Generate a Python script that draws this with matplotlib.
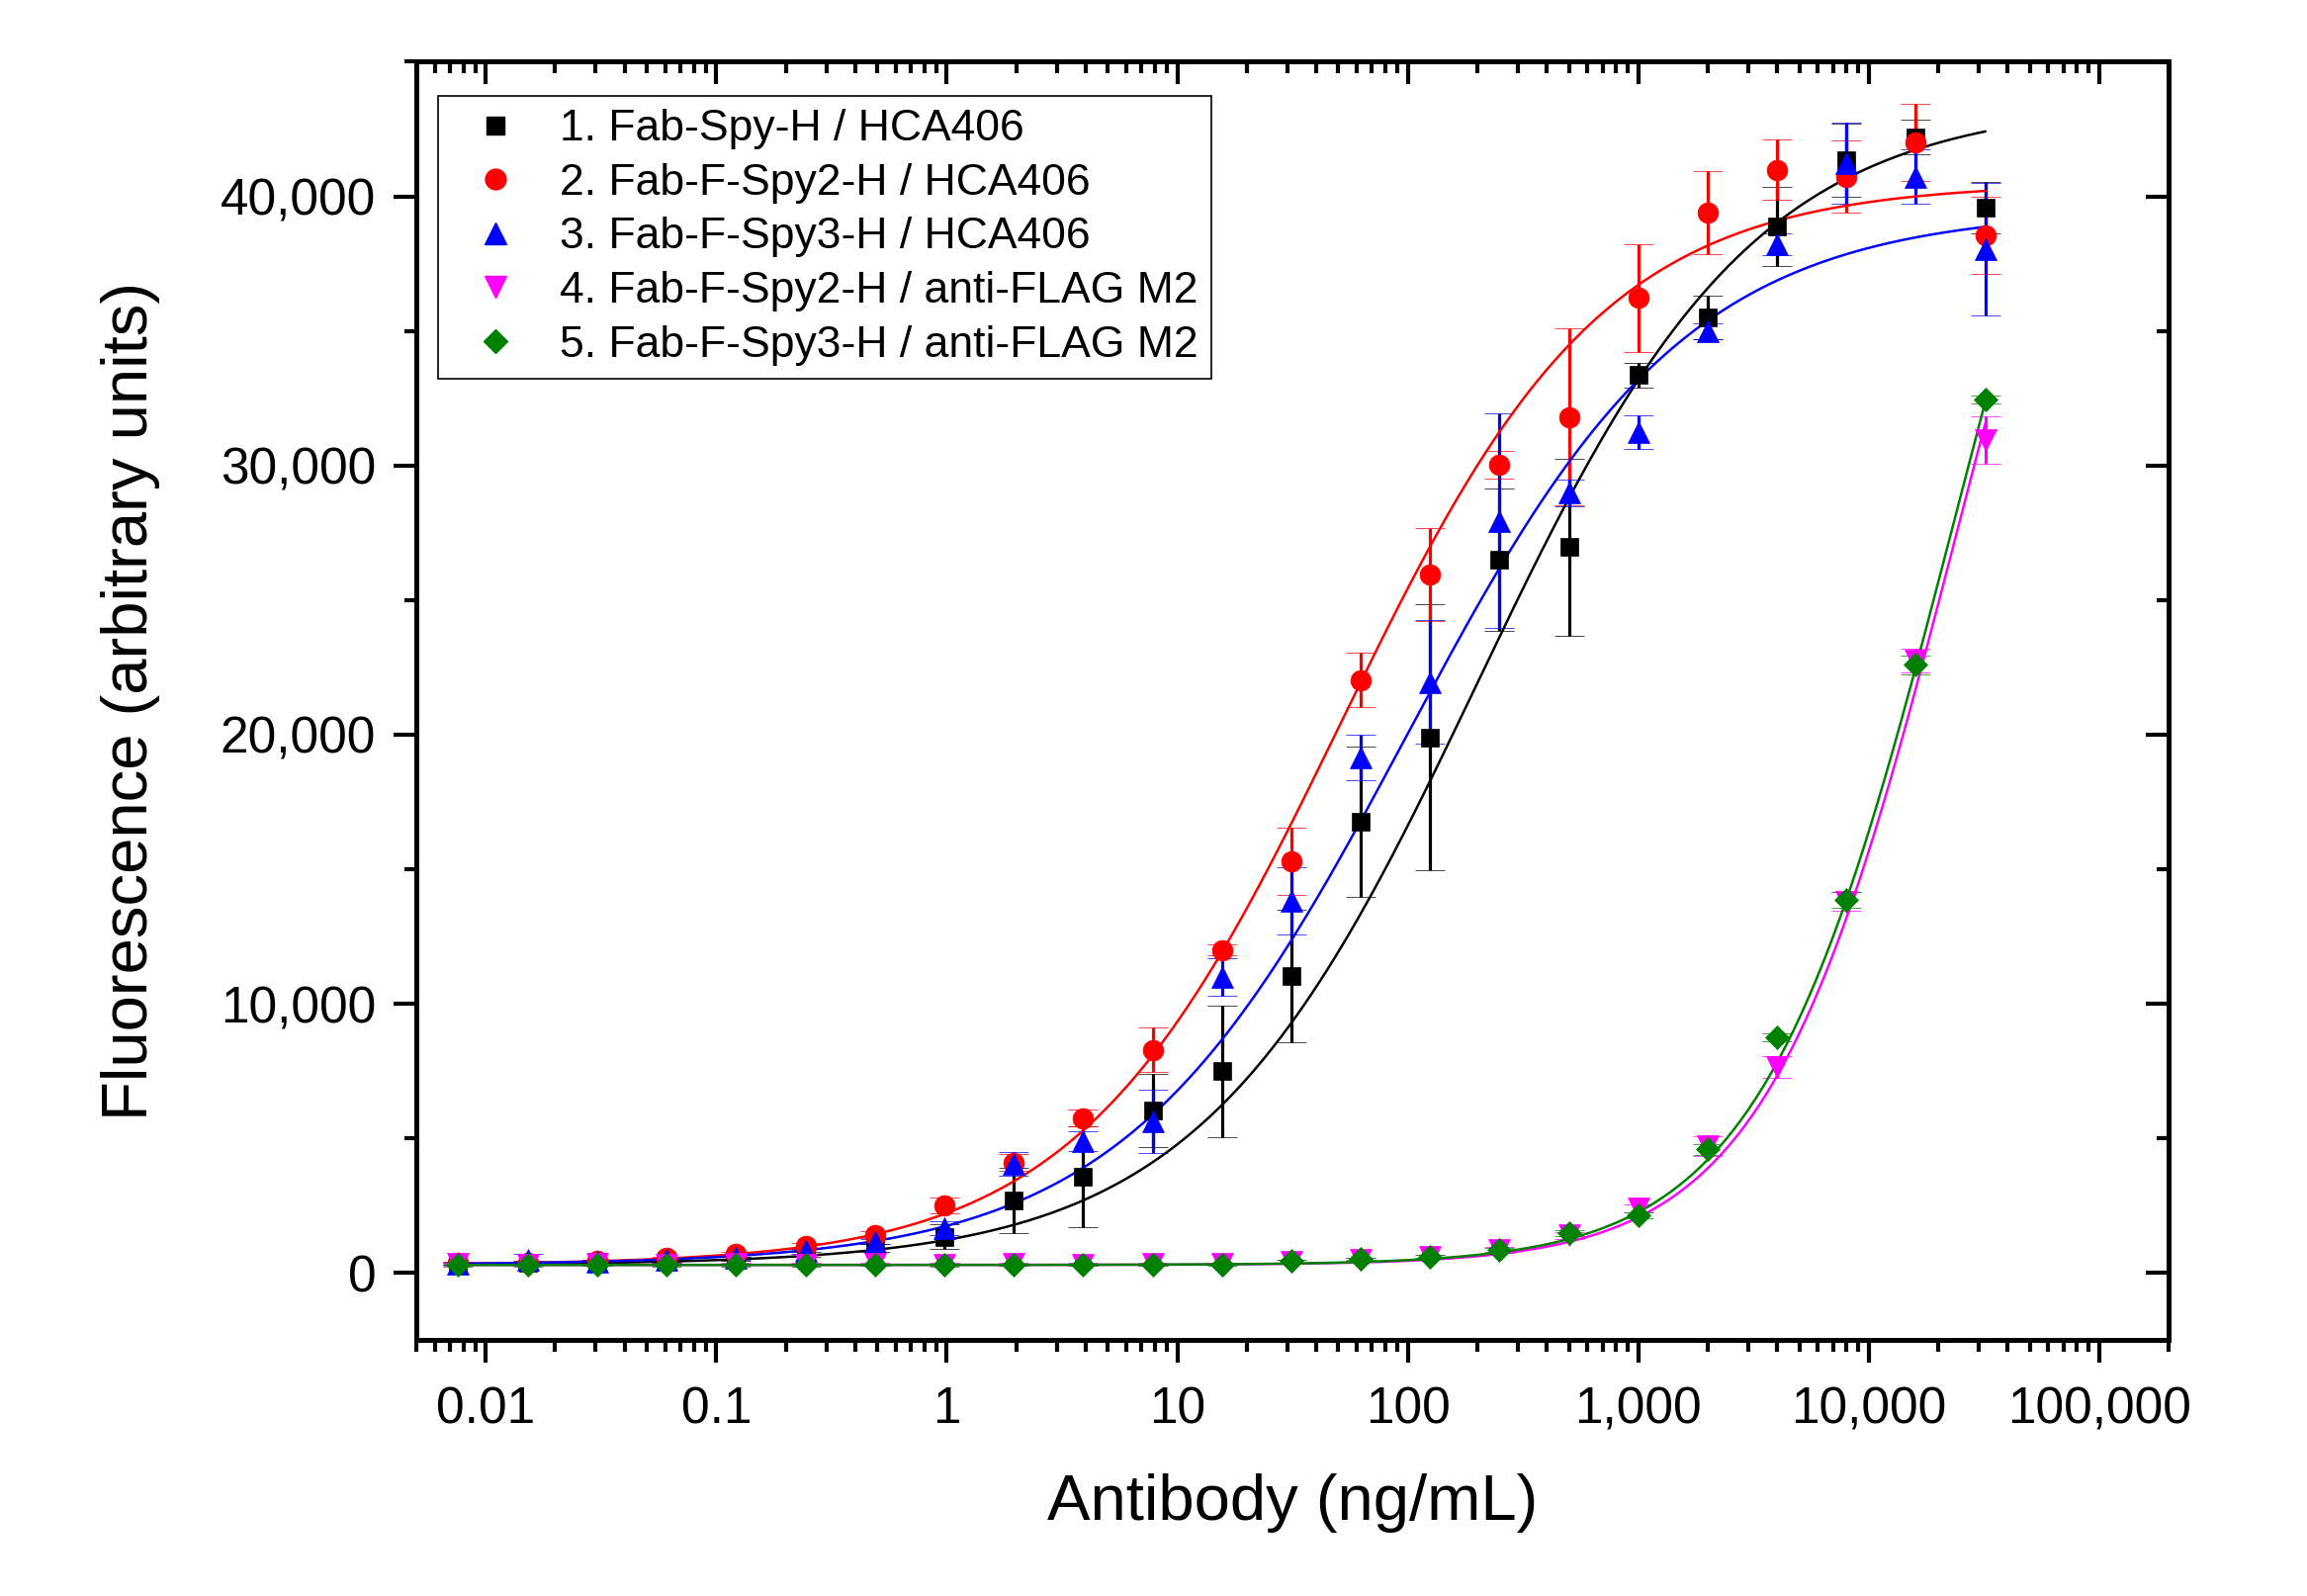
import numpy as np
import matplotlib
matplotlib.use("Agg")
import matplotlib.pyplot as plt
from matplotlib.ticker import FixedLocator, MultipleLocator, FuncFormatter, NullFormatter
from matplotlib.lines import Line2D

plt.rcParams['font.family'] = ['Liberation Sans', 'DejaVu Sans']

# ---------------- data ----------------
conc = [0.0076, 0.0153, 0.0305, 0.061, 0.122, 0.244, 0.488, 0.977, 1.95, 3.91,
        7.81, 15.6, 31.25, 62.5, 125, 250, 500, 1000, 2000, 4000, 8000, 16000, 32000]

labels = ["1. Fab-Spy-H / HCA406",
          "2. Fab-F-Spy2-H / HCA406",
          "3. Fab-F-Spy3-H / HCA406",
          "4. Fab-F-Spy2-H / anti-FLAG M2",
          "5. Fab-F-Spy3-H / anti-FLAG M2"]

x_major_ticks = [0.01, 0.1, 1, 10, 100, 1000, 10000, 100000]

s1_y = [360, 380, 420, 450, 520, 690, 930, 1350, 2700, 3580, 6030, 7500, 11040,
        16760, 19900, 26500, 26970, 33360, 35500, 38880, 41340, 42200, 39570]
s1_err = [60, 60, 60, 60, 80, 100, 150, 450, 1200, 1860, 1350, 2440, 2450,
          2800, 4950, 2650, 3290, 450, 800, 1480, 1350, 650, 950]

s2_y = [370, 380, 440, 560, 720, 1000, 1420, 2520, 4110, 5760, 8290, 12000, 15300,
        22030, 25960, 30030, 31800, 36230, 39390, 40980, 40730, 42020, 38550]
s2_err = [50, 50, 50, 60, 60, 100, 120, 300, 300, 300, 830, 200, 1240,
          1000, 1730, 520, 3280, 2000, 1550, 1120, 1350, 1430, 1420]

s3_y = [340, 500, 430, 500, 560, 810, 1170, 1660, 4050, 4900, 5640, 11000, 13830,
        19150, 21960, 27950, 28990, 31250, 34990, 38220, 41230, 40730, 38040]
s3_err = [50, 200, 60, 80, 60, 80, 100, 250, 450, 350, 1170, 690, 1260,
          850, 2300, 4000, 490, 620, 300, 400, 1500, 1000, 2460]

s4_y = [330, 320, 330, 320, 330, 320, 330, 320, 330, 320, 330, 340, 420,
        500, 600, 860, 1400, 2400, 4720, 7650, 13800, 22750, 30950]
s4_err = [50, 50, 50, 50, 50, 50, 50, 50, 50, 50, 50, 50, 60,
          60, 80, 100, 120, 150, 370, 400, 350, 450, 880]

s5_y = [290, 290, 300, 290, 290, 290, 300, 290, 300, 300, 300, 310, 440,
        530, 620, 870, 1480, 2150, 4600, 8760, 13860, 22590, 32440]
s5_err = [40, 40, 40, 40, 40, 40, 40, 40, 40, 40, 40, 40, 50,
          50, 60, 80, 100, 100, 200, 150, 300, 350, 150]

# four-parameter logistic fit parameters
fit_bottom = [300, 300, 300, 300, 300]
fit_top = [43500, 40500, 39500, 54000, 55000]
fit_ec50 = [200, 51, 98, 23500, 23000]
fit_hill = [0.72, 0.76, 0.71, 1.07, 1.05]

series_y = [s1_y, s2_y, s3_y, s4_y, s5_y]
series_err = [s1_err, s2_err, s3_err, s4_err, s5_err]

# ---------------- style ----------------
colors = ['#000000', '#FF0000', '#0000FF', '#FF00FF', '#008000']
markers = ['s', 'o', '^', 'v', 'D']
msizes = [13, 15, 15.5, 15.5, 12.5]

XMIN, XMAX = 0.005, 2.0e5
x_minor_ticks = [m * 10.0 ** k for k in range(-3, 6) for m in range(2, 10)
                 if XMIN <= m * 10.0 ** k <= XMAX]

fig = plt.figure(figsize=(23.33, 16.14), dpi=100)
ax = fig.add_axes([0.1805, 0.1602, 0.7595, 0.8011])

x = np.array(conc)
for yv, ev, c, m, ms in zip(series_y, series_err, colors, markers, msizes):
    ax.errorbar(x, yv, yerr=ev, fmt=m, color=c, ms=ms, mec=c, mew=0.5,
                elinewidth=2.3, capsize=10.5, capthick=2.3, linestyle='none')

xf = np.logspace(np.log10(conc[0]), np.log10(conc[-1]), 400)
for b, t, e, h, c in zip(fit_bottom, fit_top, fit_ec50, fit_hill, colors):
    u = (xf / e) ** h
    yf = b + (t - b) * u / (1 + u)
    ax.plot(xf, yf, color=c, lw=1.8)

ax.set_xscale('log')
ax.set_xlim(XMIN, XMAX)
ax.set_ylim(-2500, 45000)

def xfmt(v, pos):
    if v < 1:
        return f"{v:g}"
    return f"{int(round(v)):,}"

ax.xaxis.set_major_locator(FixedLocator(x_major_ticks))
ax.xaxis.set_minor_locator(FixedLocator(x_minor_ticks))
ax.xaxis.set_major_formatter(FuncFormatter(xfmt))
ax.xaxis.set_minor_formatter(NullFormatter())
ax.yaxis.set_major_locator(MultipleLocator(10000))
ax.yaxis.set_minor_locator(MultipleLocator(5000))
ax.yaxis.set_major_formatter(FuncFormatter(lambda v, p: f"{int(round(v)):,}"))

tick_w = 3.0
ax.tick_params(axis='both', which='major', direction='out', length=16.5, width=tick_w,
               labelsize=37, top=False, right=False)
ax.tick_params(axis='both', which='minor', direction='out', length=8.6, width=tick_w,
               top=False, right=False)
ax.tick_params(axis='x', which='major', pad=16.5)
ax.tick_params(axis='y', which='major', pad=13)
for sp in ax.spines.values():
    sp.set_linewidth(3.4)

# inward ticks on top and right
axt = ax.twiny()
axt.set_xscale('log')
axt.set_xlim(ax.get_xlim())
axt.xaxis.set_major_locator(FixedLocator(x_major_ticks))
axt.xaxis.set_minor_locator(FixedLocator(x_minor_ticks))
axt.xaxis.set_major_formatter(NullFormatter())
axt.xaxis.set_minor_formatter(NullFormatter())
axt.tick_params(axis='x', which='major', direction='in', length=16.5, width=tick_w,
                labeltop=False, top=True)
axt.tick_params(axis='x', which='minor', direction='in', length=8.6, width=tick_w, top=True)
axr = ax.twinx()
axr.set_ylim(ax.get_ylim())
axr.yaxis.set_major_locator(MultipleLocator(10000))
axr.yaxis.set_minor_locator(MultipleLocator(5000))
axr.yaxis.set_major_formatter(NullFormatter())
axr.tick_params(axis='y', which='major', direction='in', length=16.5, width=tick_w,
                labelright=False, right=True)
axr.tick_params(axis='y', which='minor', direction='in', length=8.6, width=tick_w, right=True)
for a in (axt, axr):
    for sp in a.spines.values():
        sp.set_linewidth(3.4)

ax.set_xlabel("Antibody (ng/mL)", fontsize=47)
ax.set_ylabel("Fluorescence (arbitrary units)", fontsize=47)
ax.xaxis.set_label_coords(0.5, -0.104)
ax.yaxis.set_label_coords(-0.1464, 0.5)

handles = [Line2D([], [], linestyle='none', marker=m, color=c, mec=c, ms=ms)
           for m, c, ms in zip(markers, colors, msizes)]
leg = axr.legend(handles, labels, loc='upper left',
                 bbox_to_anchor=(443 / 2333, 1 - 97 / 1614), bbox_transform=fig.transFigure,
                 borderaxespad=0, fontsize=32, frameon=True, fancybox=False,
                 edgecolor='black', framealpha=1, borderpad=0.3, labelspacing=0.305,
                 handlelength=2.0, handletextpad=0.46)
leg.get_frame().set_linewidth(1.2)

fig.savefig("out.png", dpi=100)
